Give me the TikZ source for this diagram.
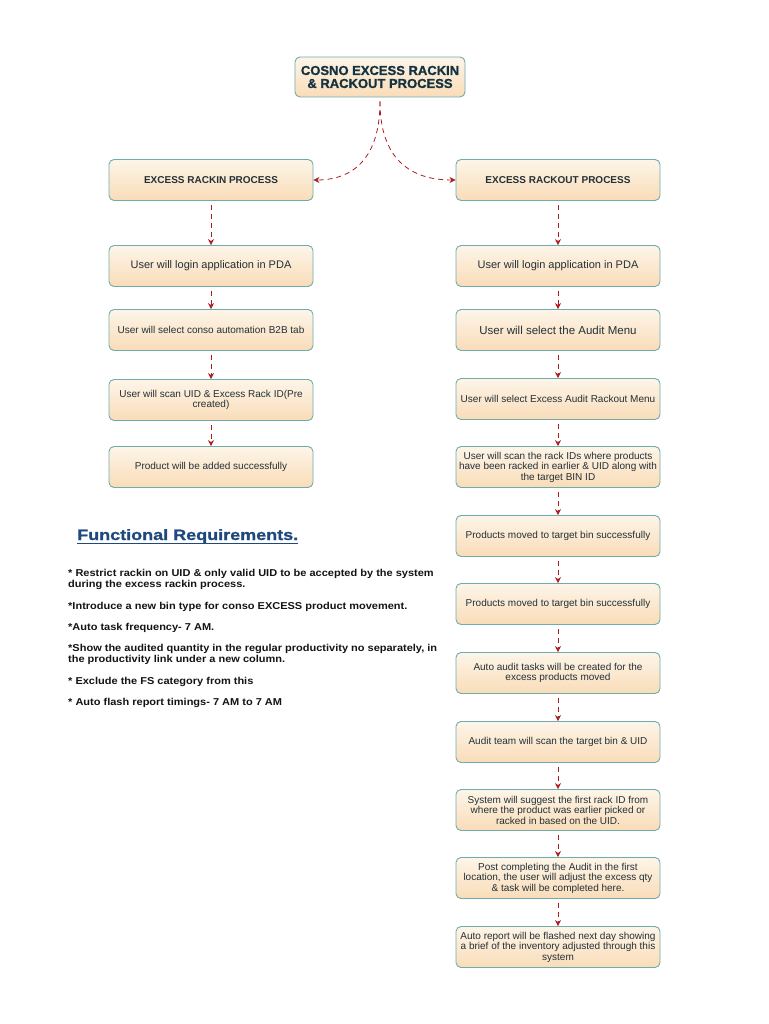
\documentclass[tikz,border=0pt]{standalone}
\usepackage{fontspec}
\setmainfont{Liberation Sans}
\newfontfamily\frfont[FakeStretch=1.1]{Liberation Sans}
\newfontfamily\hdfont[FakeStretch=1.2,FakeBold=1.2]{Liberation Sans Bold}
\newfontfamily\ttlfont[FakeBold=1.0]{Liberation Sans Bold}
\usetikzlibrary{arrows.meta}
\definecolor{boxtop}{RGB}{253,245,233}
\definecolor{boxbot}{RGB}{249,220,184}
\definecolor{boxline}{RGB}{112,172,170}
\definecolor{arr}{RGB}{170,30,30}
\definecolor{boxtext}{RGB}{36,48,54}
\definecolor{titletext}{RGB}{20,50,64}
\definecolor{frblue}{RGB}{31,73,125}
\definecolor{frtext}{RGB}{20,20,20}
\tikzset{
 procbox/.style={rectangle, rounded corners=5pt, minimum width=204pt, minimum height=41pt,
   top color=boxtop, bottom color=boxbot, draw=boxline, line width=0.9pt, align=center,
   text=boxtext, inner sep=2pt, font=\fontsize{10}{10.5}\selectfont},
 headbox/.style={procbox, font=\bfseries\fontsize{10}{11}\selectfont},
 bigbox/.style={procbox, font=\fontsize{11}{12}\selectfont},
 titlebox/.style={procbox, minimum width=170pt, minimum height=40pt, text=titletext,
   font=\ttlfont\fontsize{13}{13}\selectfont},
 flow/.style={draw=arr, dash pattern=on 5pt off 4pt, line width=0.8pt, shorten <=4pt,
   -{Stealth[length=6pt,width=6pt]}},
 frline/.style={anchor=base west, inner sep=0pt, text=frtext,
   font=\frfont\bfseries\fontsize{10}{11}\selectfont},
}
\begin{document}
\begin{tikzpicture}[x=1pt,y=-1pt]
\useasboundingbox (0,0) rectangle (768,1024);
\fill[white] (0,0) rectangle (768,1024);

\node[titlebox] (title) at (380,77) {COSNO EXCESS RACKIN\\\& RACKOUT PROCESS};
\node[headbox] (lh) at (211,180) {EXCESS RACKIN PROCESS};
\node[headbox] (rh) at (558,180) {EXCESS RACKOUT PROCESS};

\node[bigbox] (l1) at (211,266) {User will login application in PDA};
\node[procbox] (l2) at (211,330) {User will select conso automation B2B tab};
\node[procbox] (l3) at (211,400) {User will scan UID \& Excess Rack ID(Pre\\created)};
\node[procbox] (l4) at (211,467) {Product will be added successfully};

\node[bigbox] (r1) at (558,266) {User will login application in PDA};
\node[procbox, font=\fontsize{11.5}{12}\selectfont] (r2) at (558,330) {User will select the Audit Menu};
\node[procbox] (r3) at (558,399) {User will select Excess Audit Rackout Menu};
\node[procbox] (r4) at (558,467) {User will scan the rack IDs where products\\have been racked in earlier \& UID along with\\the target BIN ID};
\node[procbox] (r5) at (558,536) {Products moved to target bin successfully};
\node[procbox] (r6) at (558,604) {Products moved to target bin successfully};
\node[procbox] (r7) at (558,673) {Auto audit tasks will be created for the\\excess products moved};
\node[procbox] (r8) at (558,742) {Audit team will scan the target bin \& UID};
\node[procbox] (r9) at (558,810) {System will suggest the first rack ID from\\where the product was earlier picked or\\racked in based on the UID.};
\node[procbox] (r10) at (558,878) {Post completing the Audit in the first\\location, the user will adjust the excess qty\\\& task will be completed here.};
\node[procbox] (r11) at (558,947) {Auto report will be flashed next day showing\\a brief of the inventory adjusted through this\\system};

\draw[flow] (title.south) .. controls +(0,73) and +(27,0) .. (lh.east);
\draw[flow] (title.south) .. controls +(0,73) and +(-32,0) .. (rh.west);

\foreach \a/\b in {lh/l1,l1/l2,l2/l3,l3/l4,rh/r1,r1/r2,r2/r3,r3/r4,r4/r5,r5/r6,r6/r7,r7/r8,r8/r9,r9/r10,r10/r11}
  \draw[flow] (\a) -- (\b);

\node[anchor=base west, inner sep=0pt, text=frblue, font=\hdfont\fontsize{15}{16}\selectfont] (frh) at (77,540) {Functional Requirements.};
\draw[frblue, line width=1.2pt] ([yshift=-3.5pt]frh.base west) -- ([yshift=-3.5pt]frh.base east);

\node[frline] (f1a) at (68,576.5) {* Restrict rackin on UID \& only valid UID to be accepted by the system};
\node[frline] (f1b) at (68,587.5) {during the excess rackin process.};
\node[frline] (f2) at (68,609) {*Introduce a new bin type for conso EXCESS product movement.};
\node[frline] (f3) at (68,630) {*Auto task frequency- 7 AM.};
\node[frline] (f4a) at (68,651) {*Show the audited quantity in the regular productivity no separately, in};
\node[frline] (f4b) at (68,662) {the productivity link under a new column.};
\node[frline] (f5) at (68,684) {* Exclude the FS category from this};
\node[frline] (f6) at (68,705) {* Auto flash report timings- 7 AM to 7 AM};
\end{tikzpicture}
\end{document}
